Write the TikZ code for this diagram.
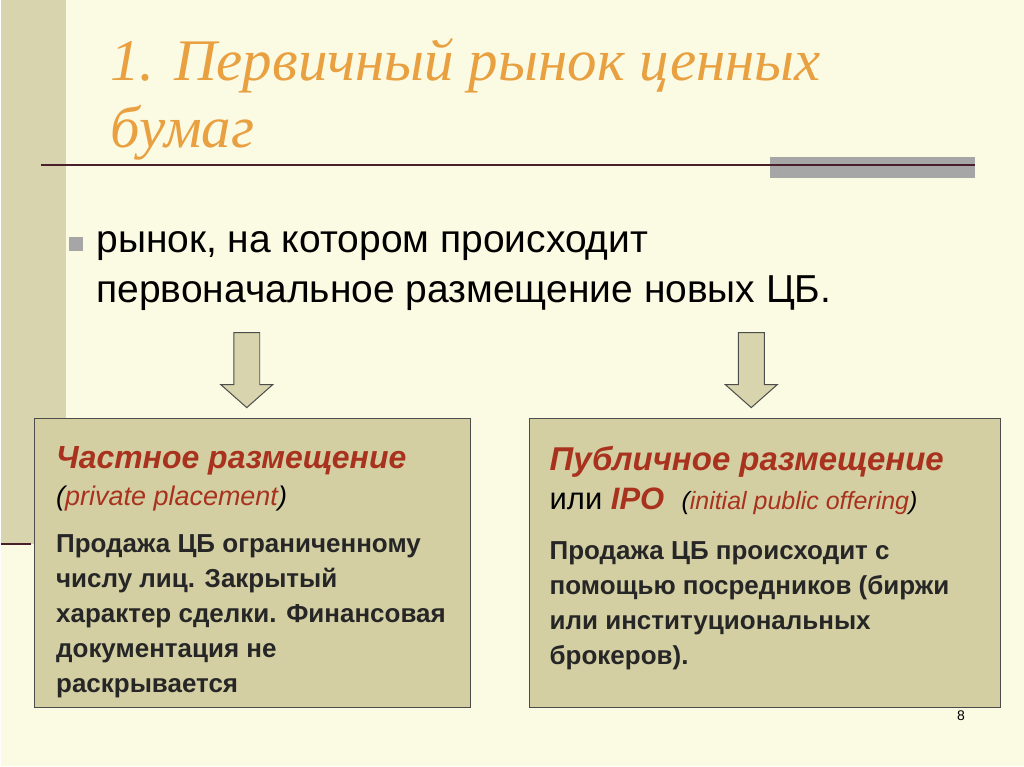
\documentclass[tikz,border=0pt]{standalone}
\usepackage{fontspec}
\setmainfont{Liberation Sans}
\newfontfamily\titlefont{Liberation Serif}
\definecolor{bg}{HTML}{FBFAE2}
\definecolor{band}{HTML}{D8D5AE}
\definecolor{boxfill}{HTML}{D3CFA3}
\definecolor{ttl}{HTML}{E8A040}
\definecolor{red}{HTML}{A8321E}
\definecolor{line}{HTML}{4A1E2A}
\tikzset{
 box/.style={draw=black!70,line width=1pt,fill=boxfill,anchor=north west,minimum width=#1},
 arr/.style={draw=black!70,line width=1pt,fill=band},
 bt/.style={anchor=north west,align=left,inner sep=0,font=\fontsize{26}{35}\selectfont\bfseries,text=black!85}
}
\begin{document}
\begin{tikzpicture}[x=1pt,y=-1pt]
\fill[bg] (0,0) rectangle (1024,767);
\fill[band] (0,0) rectangle (65,545);
\draw[line,line width=2pt] (0,545) -- (30,545);
\fill[black!35] (770,157) rectangle (975,178);
\draw[line,line width=2pt] (40,165) -- (975,165);
\node[anchor=west,text=ttl,font=\titlefont\itshape\fontsize{59}{59}\selectfont] (t1) at (106,66) {1. Первичный рынок ценных};
\node[anchor=west,text=ttl,font=\titlefont\itshape\fontsize{59}{59}\selectfont] (t2) at (106,133) {бумаг};
\fill[black!35] (68,237) rectangle (82,251);
\node[anchor=west,font=\fontsize{39}{39}\selectfont] (l1) at (92,246) {рынок, на котором происходит};
\node[anchor=west,font=\fontsize{39}{39}\selectfont] (l2) at (92,293) {первоначальное размещение новых ЦБ.};
\draw[arr] (233,333) -- (259,333) -- (259,385) -- (272,385) -- (246,408) -- (220,385) -- (233,385) -- cycle;
\draw[arr] (738,333) -- (764,333) -- (764,385) -- (777,385) -- (751,408) -- (725,385) -- (738,385) -- cycle;
\node[box=436pt,minimum height=290pt] (b1) at (33,418) {};
\node[box=471pt,minimum height=290pt] (b2) at (529,418) {};
\node[anchor=north west,align=left,inner sep=0,text=red,font=\fontsize{32}{37}\selectfont\bfseries\itshape] (h1) at (55,447) {Частное размещение\\{\normalfont\fontsize{27}{30}\selectfont\itshape\color{black}(\textcolor{red}{private placement})}};
\node[bt] (x1) at (55,535) {Продажа ЦБ ограниченному\\числу лиц. Закрытый\\характер сделки. Финансовая\\документация не\\раскрывается};
\node[anchor=north west,align=left,inner sep=0,text=red,font=\fontsize{33}{39}\selectfont\bfseries\itshape] (h2) at (549,447) {Публичное размещение\\{\normalfont\fontsize{31}{33}\selectfont\color{black}или \textcolor{red}{\bfseries\itshape IPO}\ \ {\fontsize{25}{28}\selectfont\itshape(\textcolor{red}{initial public offering})}}};
\node[bt] (x2) at (549,542) {Продажа ЦБ происходит с\\помощью посредников (биржи\\или институциональных\\брокеров).};
\node[font=\fontsize{14}{14}\selectfont] (pg) at (961,716) {8};
\end{tikzpicture}
\end{document}
